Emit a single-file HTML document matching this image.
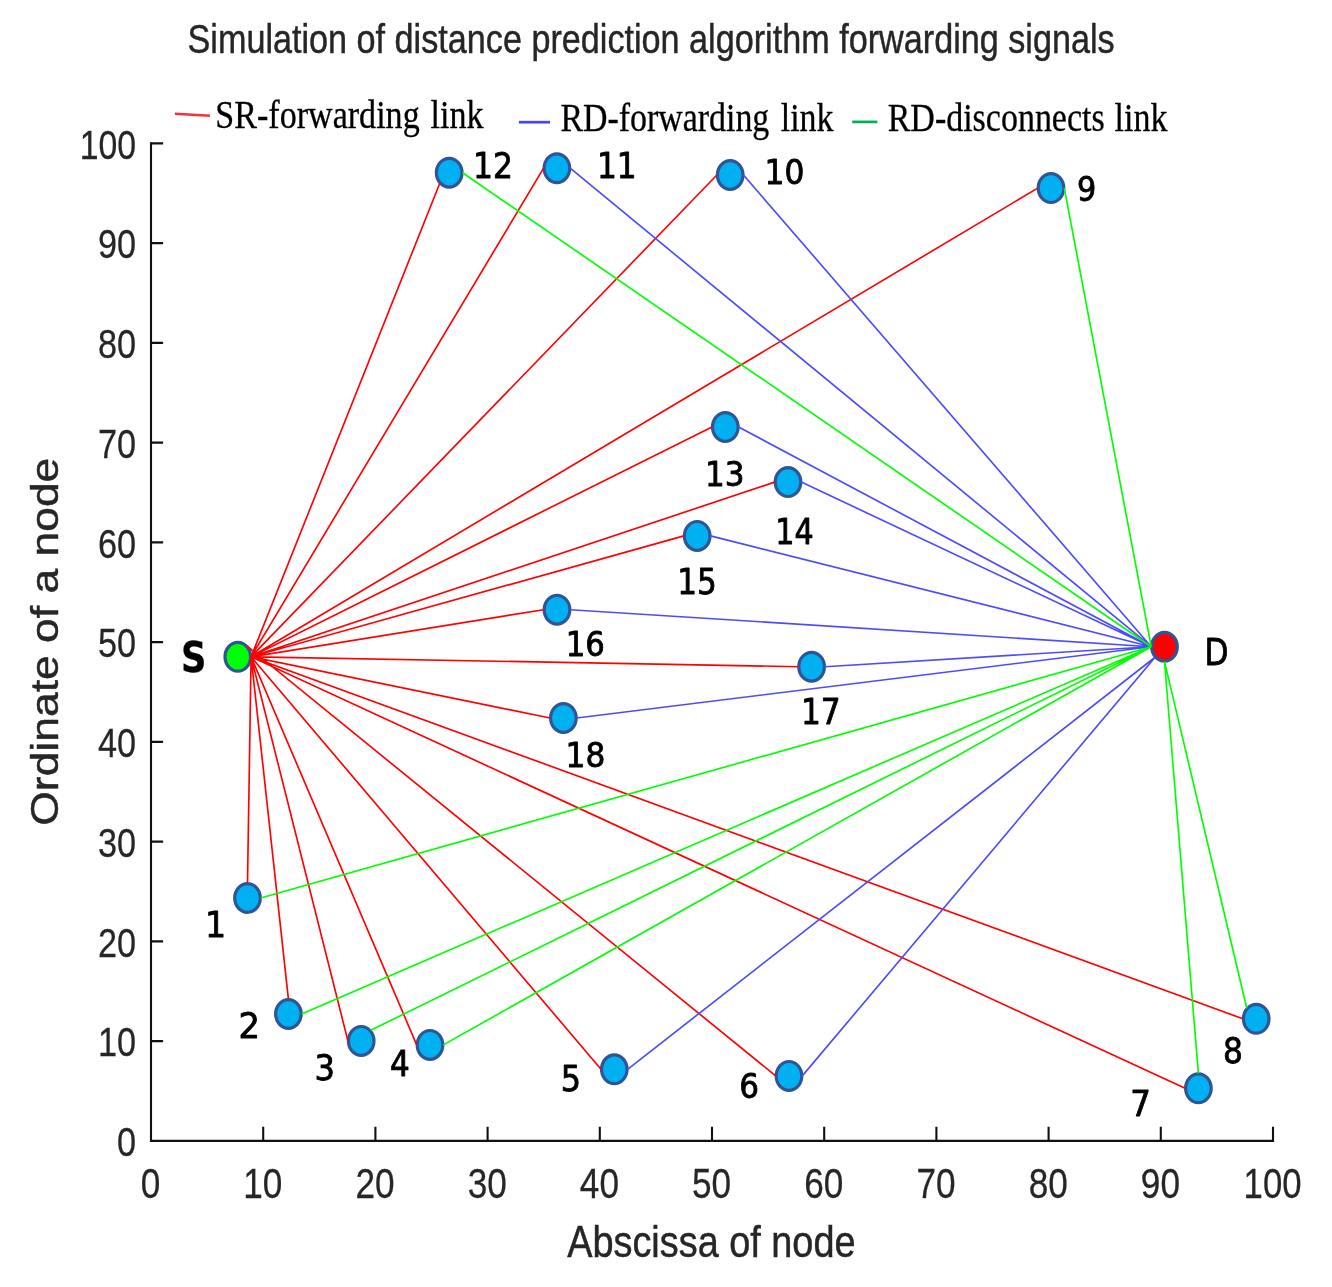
<!DOCTYPE html>
<html lang="en"><head><meta charset="utf-8"><title>Simulation of distance prediction algorithm forwarding signals</title>
<style>
html,body{margin:0;padding:0;background:#fff}
body{width:1332px;height:1287px;overflow:hidden}
svg{display:block}
text{white-space:pre}
</style></head><body>
<svg width="1332" height="1287" viewBox="0 0 1332 1287">
<rect width="1332" height="1287" fill="#fff"/>
<g id="axes">
<path d="M151 142.35V1140.85H1274.05" fill="none" stroke="#111" stroke-width="2.1" stroke-linejoin="miter"/>
<path d="M263.2 1140.85v-14M151 1041.11h12.1M375.4 1140.85v-14M151 941.36h12.1M487.6 1140.85v-14M151 841.62h12.1M599.8 1140.85v-14M151 741.87h12.1M712 1140.85v-14M151 642.12h12.1M824.2 1140.85v-14M151 542.38h12.1M936.4 1140.85v-14M151 442.63h12.1M1048.6 1140.85v-14M151 342.89h12.1M1160.8 1140.85v-14M151 243.14h12.1M1273 1140.85v-14M151 143.4h12.1" fill="none" stroke="#111" stroke-width="2.1"/>
<text transform="translate(150.6 1198) scale(0.846 1)" text-anchor="middle" font-family="'Liberation Sans', 'DejaVu Sans', sans-serif" font-size="41.6" fill="#262626" stroke="#262626" stroke-width="0.25">0</text>
<text transform="translate(136.1 1156.05) scale(0.846 1)" text-anchor="end" font-family="'Liberation Sans', 'DejaVu Sans', sans-serif" font-size="40.5" fill="#262626" stroke="#262626" stroke-width="0.25">0</text>
<text transform="translate(262.8 1198) scale(0.846 1)" text-anchor="middle" font-family="'Liberation Sans', 'DejaVu Sans', sans-serif" font-size="41.6" fill="#262626" stroke="#262626" stroke-width="0.25">10</text>
<text transform="translate(136.1 1056.31) scale(0.846 1)" text-anchor="end" font-family="'Liberation Sans', 'DejaVu Sans', sans-serif" font-size="40.5" fill="#262626" stroke="#262626" stroke-width="0.25">10</text>
<text transform="translate(375 1198) scale(0.846 1)" text-anchor="middle" font-family="'Liberation Sans', 'DejaVu Sans', sans-serif" font-size="41.6" fill="#262626" stroke="#262626" stroke-width="0.25">20</text>
<text transform="translate(136.1 956.56) scale(0.846 1)" text-anchor="end" font-family="'Liberation Sans', 'DejaVu Sans', sans-serif" font-size="40.5" fill="#262626" stroke="#262626" stroke-width="0.25">20</text>
<text transform="translate(487.2 1198) scale(0.846 1)" text-anchor="middle" font-family="'Liberation Sans', 'DejaVu Sans', sans-serif" font-size="41.6" fill="#262626" stroke="#262626" stroke-width="0.25">30</text>
<text transform="translate(136.1 856.82) scale(0.846 1)" text-anchor="end" font-family="'Liberation Sans', 'DejaVu Sans', sans-serif" font-size="40.5" fill="#262626" stroke="#262626" stroke-width="0.25">30</text>
<text transform="translate(599.4 1198) scale(0.846 1)" text-anchor="middle" font-family="'Liberation Sans', 'DejaVu Sans', sans-serif" font-size="41.6" fill="#262626" stroke="#262626" stroke-width="0.25">40</text>
<text transform="translate(136.1 757.07) scale(0.846 1)" text-anchor="end" font-family="'Liberation Sans', 'DejaVu Sans', sans-serif" font-size="40.5" fill="#262626" stroke="#262626" stroke-width="0.25">40</text>
<text transform="translate(711.6 1198) scale(0.846 1)" text-anchor="middle" font-family="'Liberation Sans', 'DejaVu Sans', sans-serif" font-size="41.6" fill="#262626" stroke="#262626" stroke-width="0.25">50</text>
<text transform="translate(136.1 657.32) scale(0.846 1)" text-anchor="end" font-family="'Liberation Sans', 'DejaVu Sans', sans-serif" font-size="40.5" fill="#262626" stroke="#262626" stroke-width="0.25">50</text>
<text transform="translate(823.8 1198) scale(0.846 1)" text-anchor="middle" font-family="'Liberation Sans', 'DejaVu Sans', sans-serif" font-size="41.6" fill="#262626" stroke="#262626" stroke-width="0.25">60</text>
<text transform="translate(136.1 557.58) scale(0.846 1)" text-anchor="end" font-family="'Liberation Sans', 'DejaVu Sans', sans-serif" font-size="40.5" fill="#262626" stroke="#262626" stroke-width="0.25">60</text>
<text transform="translate(936 1198) scale(0.846 1)" text-anchor="middle" font-family="'Liberation Sans', 'DejaVu Sans', sans-serif" font-size="41.6" fill="#262626" stroke="#262626" stroke-width="0.25">70</text>
<text transform="translate(136.1 457.83) scale(0.846 1)" text-anchor="end" font-family="'Liberation Sans', 'DejaVu Sans', sans-serif" font-size="40.5" fill="#262626" stroke="#262626" stroke-width="0.25">70</text>
<text transform="translate(1048.2 1198) scale(0.846 1)" text-anchor="middle" font-family="'Liberation Sans', 'DejaVu Sans', sans-serif" font-size="41.6" fill="#262626" stroke="#262626" stroke-width="0.25">80</text>
<text transform="translate(136.1 358.09) scale(0.846 1)" text-anchor="end" font-family="'Liberation Sans', 'DejaVu Sans', sans-serif" font-size="40.5" fill="#262626" stroke="#262626" stroke-width="0.25">80</text>
<text transform="translate(1160.4 1198) scale(0.846 1)" text-anchor="middle" font-family="'Liberation Sans', 'DejaVu Sans', sans-serif" font-size="41.6" fill="#262626" stroke="#262626" stroke-width="0.25">90</text>
<text transform="translate(136.1 258.34) scale(0.846 1)" text-anchor="end" font-family="'Liberation Sans', 'DejaVu Sans', sans-serif" font-size="40.5" fill="#262626" stroke="#262626" stroke-width="0.25">90</text>
<text transform="translate(1272.6 1198) scale(0.835 1)" text-anchor="middle" font-family="'Liberation Sans', 'DejaVu Sans', sans-serif" font-size="41.6" fill="#262626" stroke="#262626" stroke-width="0.25">100</text>
<text transform="translate(136.1 158.6) scale(0.835 1)" text-anchor="end" font-family="'Liberation Sans', 'DejaVu Sans', sans-serif" font-size="40.5" fill="#262626" stroke="#262626" stroke-width="0.25">100</text>
</g>
<g id="nodes" stroke="#2F5597" stroke-width="3.2">
<ellipse cx="247.5" cy="898" rx="12.8" ry="14.4" fill="#00B0F0"/><ellipse cx="288.4" cy="1014" rx="12.8" ry="14.4" fill="#00B0F0"/><ellipse cx="361.2" cy="1040.9" rx="12.8" ry="14.4" fill="#00B0F0"/><ellipse cx="430" cy="1044.9" rx="12.8" ry="14.4" fill="#00B0F0"/><ellipse cx="614.3" cy="1069.3" rx="12.8" ry="14.4" fill="#00B0F0"/><ellipse cx="789" cy="1075.9" rx="12.8" ry="14.4" fill="#00B0F0"/><ellipse cx="1198.4" cy="1088.3" rx="12.8" ry="14.4" fill="#00B0F0"/><ellipse cx="1256.2" cy="1018.8" rx="12.8" ry="14.4" fill="#00B0F0"/><ellipse cx="1051" cy="188.1" rx="12.8" ry="14.4" fill="#00B0F0"/><ellipse cx="730.2" cy="175" rx="12.8" ry="14.4" fill="#00B0F0"/><ellipse cx="556.9" cy="168.2" rx="12.8" ry="14.4" fill="#00B0F0"/><ellipse cx="449.2" cy="172.7" rx="12.8" ry="14.4" fill="#00B0F0"/><ellipse cx="725.3" cy="427" rx="12.8" ry="14.4" fill="#00B0F0"/><ellipse cx="788" cy="482.1" rx="12.8" ry="14.4" fill="#00B0F0"/><ellipse cx="697.2" cy="535.9" rx="12.8" ry="14.4" fill="#00B0F0"/><ellipse cx="557" cy="609.7" rx="12.8" ry="14.4" fill="#00B0F0"/><ellipse cx="811.6" cy="666.7" rx="12.8" ry="14.4" fill="#00B0F0"/><ellipse cx="563.4" cy="718" rx="12.8" ry="14.4" fill="#00B0F0"/><ellipse cx="237.8" cy="656.8" rx="12.8" ry="14.4" fill="#00FF00"/><ellipse cx="1164.5" cy="646.7" rx="12.8" ry="14.4" fill="#FF0000"/>
</g>
<g id="links" fill="none" stroke-width="1.65" stroke-linecap="butt">
<path d="M251.1 656.8L247.5 883.1M251.1 656.8L288.4 999.1M251.1 656.8L347.9 1040.9M251.1 656.8L416.7 1044.9M251.1 656.8L601 1069.3M247.2 646.26L775.7 1075.9M251.1 656.8L1185.1 1088.3M251.1 656.8L1242.9 1018.8M251.1 656.8L1037.7 188.1M251.1 656.8L716.9 175M251.1 656.8L543.6 168.2M251.1 656.8L439.8 183.24M251.1 656.8L712 427M251.1 656.8L774.7 482.1M251.1 656.8L683.9 535.9M251.1 656.8L543.7 609.7M251.1 656.8L798.3 666.7M251.1 656.8L550.1 718" stroke="#FF0000"/><path d="M627.6 1069.3L1155.1 657.24M802.3 1075.9L1155.1 657.24M743.5 175L1151.2 646.7M570.2 168.2L1151.2 646.7M738.6 427L1151.2 646.7M801.3 482.1L1151.2 646.7M710.5 535.9L1151.2 646.7M570.3 609.7L1151.2 646.7M824.9 666.7L1151.2 646.7M576.7 718L1151.2 646.7" stroke="#4B4BFF"/><path d="M260.8 898L1151.2 646.7M301.7 1014L1151.2 646.7M370.6 1030.36L1151.2 646.7M443.3 1044.9L1151.2 646.7M1198.4 1073.4L1164.5 661.6M1246.8 1008.26L1164.5 661.6M1064.3 188.1L1151.2 646.7M462.5 172.7L1151.2 646.7" stroke="#00FF00"/>
</g>
<g id="legend" fill="none">
<path d="M174.9 113.8L210 115.7" stroke="#F8303C" stroke-width="2.6"/><path d="M518.9 122.2H550" stroke="#4545FF" stroke-width="2.7"/><path d="M852.2 121.9H877.3" stroke="#00B050" stroke-width="2.7"/>
</g>
<g id="labels">
<text transform="translate(187.53 52.8) scale(0.8441 1)" font-family="'Liberation Sans', 'DejaVu Sans', sans-serif" font-size="40.5" font-weight="normal" fill="#262626" stroke="#262626" stroke-width="0.45" stroke-linejoin="round">Simulation of distance prediction algorithm forwarding signals</text>
<text transform="translate(215.31 127.8) scale(0.8693 1)" font-family="'Liberation Serif', 'DejaVu Serif', serif" font-size="39.2" font-weight="normal" fill="#000" stroke="#000" stroke-width="0.3" stroke-linejoin="round" style="word-spacing:2.76px">SR-forwarding link</text>
<text transform="translate(560.41 131) scale(0.8650 1)" font-family="'Liberation Serif', 'DejaVu Serif', serif" font-size="39.2" font-weight="normal" fill="#000" stroke="#000" stroke-width="0.3" stroke-linejoin="round" style="word-spacing:3.47px">RD-forwarding link</text>
<text transform="translate(887.7 131) scale(0.8667 1)" font-family="'Liberation Serif', 'DejaVu Serif', serif" font-size="39.2" font-weight="normal" fill="#000" stroke="#000" stroke-width="0.3" stroke-linejoin="round" style="word-spacing:1.61px">RD-disconnects link</text>
<text transform="translate(567.2 1256.89) scale(0.8673 1)" font-family="'Liberation Sans', 'DejaVu Sans', sans-serif" font-size="43.67" font-weight="normal" fill="#262626" stroke="#262626" stroke-width="0.45" stroke-linejoin="round">Abscissa of node</text>
<text transform="translate(58.48 825.68) rotate(-90) scale(1.1717 1)" font-family="'Liberation Sans', 'DejaVu Sans', sans-serif" font-size="37.93" font-weight="normal" fill="#262626" stroke="#262626" stroke-width="0.45" stroke-linejoin="round">Ordinate of a node</text>
<text transform="translate(473.09 178.3) scale(0.9907 1)" font-family="'DejaVu Sans Condensed', 'DejaVu Sans', 'Liberation Sans', sans-serif" font-size="35.2" font-weight="normal" fill="#000" stroke="#000" stroke-width="0.8" stroke-linejoin="round">12</text>
<text transform="translate(597 177.5) scale(0.9771 1)" font-family="'DejaVu Sans Condensed', 'DejaVu Sans', 'Liberation Sans', sans-serif" font-size="35.54" font-weight="normal" fill="#000" stroke="#000" stroke-width="0.8" stroke-linejoin="round">11</text>
<text transform="translate(764.6 183.77) scale(1.0282 1)" font-family="'DejaVu Sans Condensed', 'DejaVu Sans', 'Liberation Sans', sans-serif" font-size="33.83" font-weight="normal" fill="#000" stroke="#000" stroke-width="0.8" stroke-linejoin="round">10</text>
<text transform="translate(1077.08 200.97) scale(0.9875 1)" font-family="'DejaVu Sans Condensed', 'DejaVu Sans', 'Liberation Sans', sans-serif" font-size="34.09" font-weight="normal" fill="#000" stroke="#000" stroke-width="0.8" stroke-linejoin="round">9</text>
<text transform="translate(705.03 486.47) scale(1.0076 1)" font-family="'DejaVu Sans Condensed', 'DejaVu Sans', 'Liberation Sans', sans-serif" font-size="34.22" font-weight="normal" fill="#000" stroke="#000" stroke-width="0.8" stroke-linejoin="round">13</text>
<text transform="translate(775.21 544) scale(0.9405 1)" font-family="'DejaVu Sans Condensed', 'DejaVu Sans', 'Liberation Sans', sans-serif" font-size="35.68" font-weight="normal" fill="#000" stroke="#000" stroke-width="0.8" stroke-linejoin="round">14</text>
<text transform="translate(677.32 593.66) scale(0.9958 1)" font-family="'DejaVu Sans Condensed', 'DejaVu Sans', 'Liberation Sans', sans-serif" font-size="34.67" font-weight="normal" fill="#000" stroke="#000" stroke-width="0.8" stroke-linejoin="round">15</text>
<text transform="translate(565.66 656.37) scale(1.0133 1)" font-family="'DejaVu Sans Condensed', 'DejaVu Sans', 'Liberation Sans', sans-serif" font-size="33.7" font-weight="normal" fill="#000" stroke="#000" stroke-width="0.8" stroke-linejoin="round">16</text>
<text transform="translate(800.9 724) scale(0.9808 1)" font-family="'DejaVu Sans Condensed', 'DejaVu Sans', 'Liberation Sans', sans-serif" font-size="35.4" font-weight="normal" fill="#000" stroke="#000" stroke-width="0.8" stroke-linejoin="round">17</text>
<text transform="translate(565.61 766.87) scale(1.0213 1)" font-family="'DejaVu Sans Condensed', 'DejaVu Sans', 'Liberation Sans', sans-serif" font-size="33.96" font-weight="normal" fill="#000" stroke="#000" stroke-width="0.8" stroke-linejoin="round">18</text>
<text transform="translate(560.65 1091.05) scale(1.0129 1)" font-family="'DejaVu Sans Condensed', 'DejaVu Sans', 'Liberation Sans', sans-serif" font-size="34.93" font-weight="normal" fill="#000" stroke="#000" stroke-width="0.8" stroke-linejoin="round">5</text>
<text transform="translate(739.3 1098.37) scale(1.0087 1)" font-family="'DejaVu Sans Condensed', 'DejaVu Sans', 'Liberation Sans', sans-serif" font-size="34.22" font-weight="normal" fill="#000" stroke="#000" stroke-width="0.8" stroke-linejoin="round">6</text>
<text transform="translate(205.1 937.4) scale(1.0336 1)" font-family="'DejaVu Sans Condensed', 'DejaVu Sans', 'Liberation Sans', sans-serif" font-size="35.68" font-weight="normal" fill="#000" stroke="#000" stroke-width="0.8" stroke-linejoin="round">1</text>
<text transform="translate(238.41 1038.3) scale(1.0495 1)" font-family="'DejaVu Sans Condensed', 'DejaVu Sans', 'Liberation Sans', sans-serif" font-size="35.87" font-weight="normal" fill="#000" stroke="#000" stroke-width="0.8" stroke-linejoin="round">2</text>
<text transform="translate(314.43 1079.94) scale(0.9978 1)" font-family="'DejaVu Sans Condensed', 'DejaVu Sans', 'Liberation Sans', sans-serif" font-size="35.79" font-weight="normal" fill="#000" stroke="#000" stroke-width="0.8" stroke-linejoin="round">3</text>
<text transform="translate(389.88 1076) scale(0.9650 1)" font-family="'DejaVu Sans Condensed', 'DejaVu Sans', 'Liberation Sans', sans-serif" font-size="35.81" font-weight="normal" fill="#000" stroke="#000" stroke-width="0.8" stroke-linejoin="round">4</text>
<text transform="translate(1130.31 1115.9) scale(1.0110 1)" font-family="'DejaVu Sans Condensed', 'DejaVu Sans', 'Liberation Sans', sans-serif" font-size="35.68" font-weight="normal" fill="#000" stroke="#000" stroke-width="0.8" stroke-linejoin="round">7</text>
<text transform="translate(1222.93 1063.24) scale(0.9776 1)" font-family="'DejaVu Sans Condensed', 'DejaVu Sans', 'Liberation Sans', sans-serif" font-size="35.53" font-weight="normal" fill="#000" stroke="#000" stroke-width="0.8" stroke-linejoin="round">8</text>
<text transform="translate(180.88 672.17) scale(0.9069 1)" font-family="'DejaVu Sans Condensed', 'DejaVu Sans', 'Liberation Sans', sans-serif" font-size="43.23" font-weight="bold" fill="#000" stroke="#000" stroke-width="0.3" stroke-linejoin="round">S</text>
<text transform="translate(1204.45 665.3) scale(0.9454 1)" font-family="'DejaVu Sans Condensed', 'DejaVu Sans', 'Liberation Sans', sans-serif" font-size="36.63" font-weight="normal" fill="#000" stroke="#000" stroke-width="0.8" stroke-linejoin="round">D</text>
</g>
</svg>
</body></html>
